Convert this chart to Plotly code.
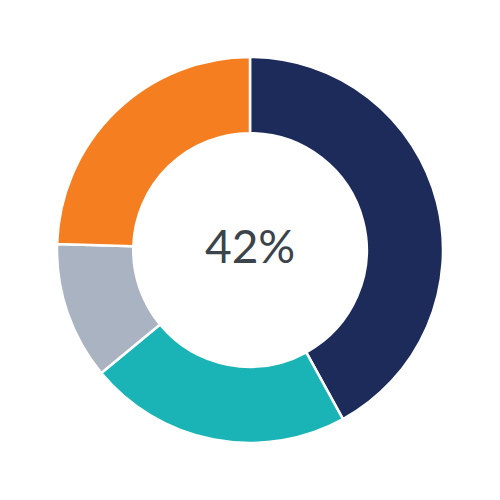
import plotly.graph_objects as go

labels = ["A", "B", "C", "D"]
values = [42, 22, 11.5, 24.5]
colors = ["#1c2b5a", "#1bb4b6", "#a9b3c1", "#f47e20"]
center_text = "42%"

fig = go.Figure()
fig.add_trace(go.Pie(
    labels=labels, values=values, hole=0.605, sort=False, direction="clockwise",
    rotation=0, textinfo="none", hoverinfo="label+percent",
    marker=dict(colors=colors, line=dict(color="white", width=2.5)),
))

# center label, nudged a bit up like the original
fig.add_annotation(text=center_text, x=0.5, y=0.5, xref="paper", yref="paper",
                   showarrow=False, yshift=5,
                   font=dict(family="Lato", size=46, color="#3b434b"))

# page has an 8px body margin, so offset the margins to keep the ring centred
fig.update_layout(
    width=500, height=500, showlegend=False,
    margin=dict(l=49, r=65, t=49, b=65),
    paper_bgcolor="white", plot_bgcolor="white",
)

fig.write_html("out.html")
